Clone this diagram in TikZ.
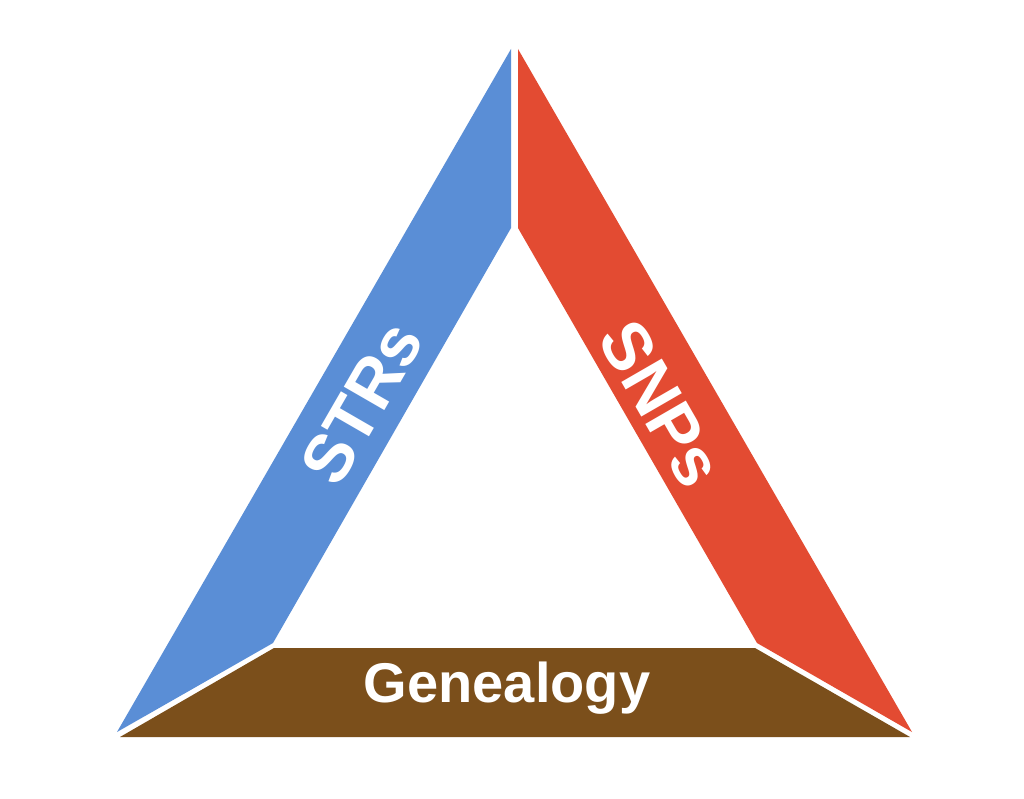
\documentclass[tikz,border=0pt]{standalone}
\usepackage{fontspec}
\setmainfont{Liberation Sans}
\definecolor{strblue}{RGB}{90,142,214}
\definecolor{snpred}{RGB}{227,75,50}
\definecolor{genbrown}{RGB}{123,79,27}
\tikzset{
  band/.style={draw=none},
  bandlabel/.style={text=white, font=\fontsize{42}{50}\selectfont\bfseries, inner sep=0pt},
  sidelabel/.style={bandlabel, font=\fontsize{51}{60}\selectfont\bfseries}
}
\begin{document}
\begin{tikzpicture}[x=0.75pt,y=-0.75pt]
\useasboundingbox (0,0) rectangle (1024,799);
\fill[white] (0,0) rectangle (1024,799);
% STRs band
\fill[strblue, band] (511,49) -- (511,228) -- (273,643) -- (117,732) -- cycle;
% SNPs band
\fill[snpred, band] (518,49) -- (518,228) -- (757,643) -- (912,732) -- cycle;
% Genealogy band
\fill[genbrown, band] (274,648) -- (755,648) -- (910,737) -- (120,737) -- cycle;
\node[sidelabel, rotate=60] (strs) at (362,403) {STRs};
\node[sidelabel, rotate=-60] (snps) at (661,404) {SNPs};
\node[bandlabel, anchor=base] (gen) at (507,702) {Genealogy};
\end{tikzpicture}
\end{document}
